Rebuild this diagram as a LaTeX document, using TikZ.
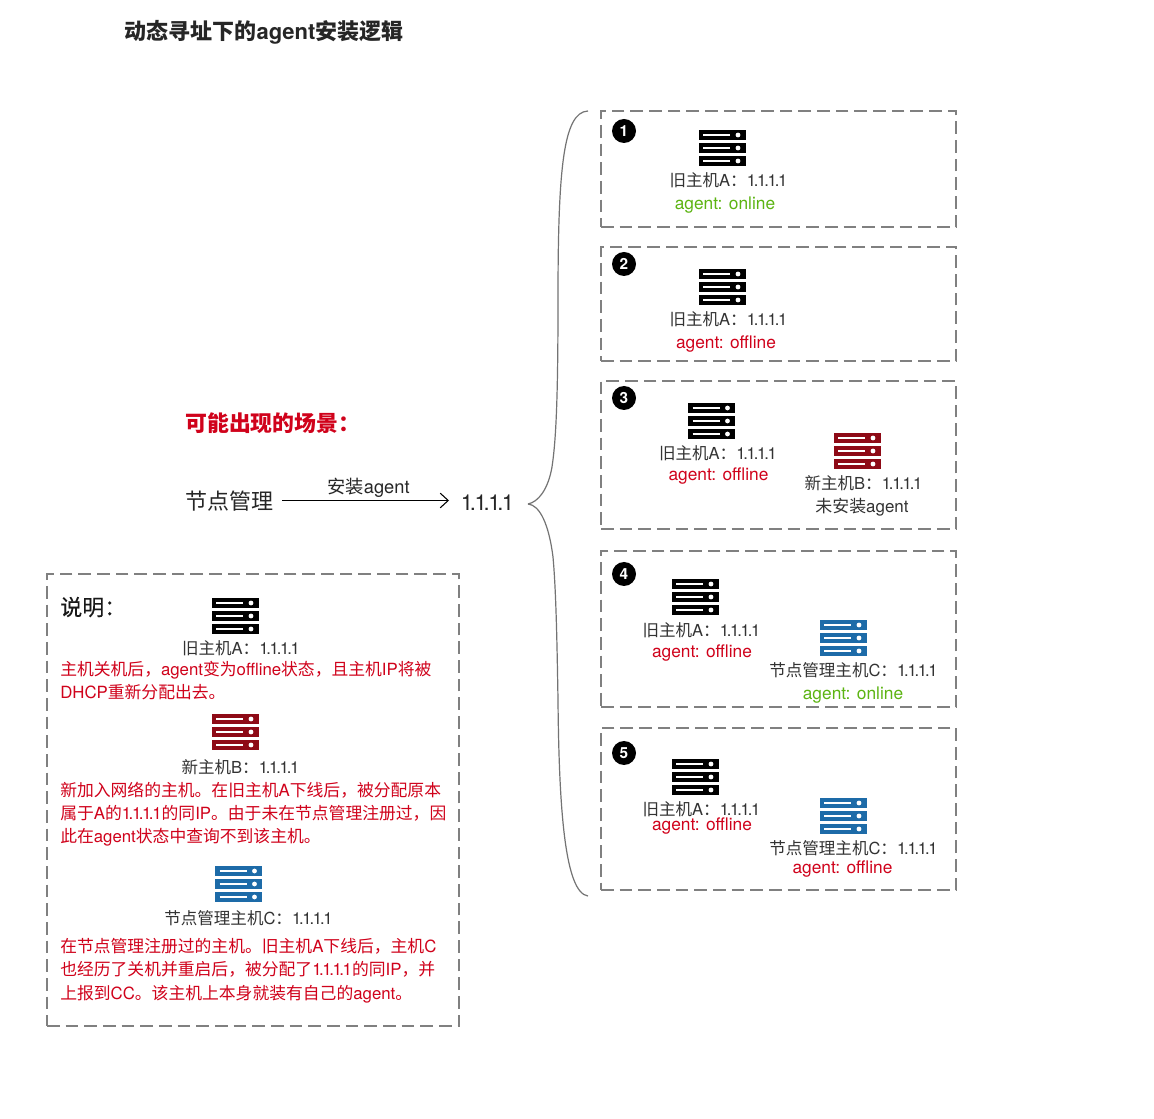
\documentclass[tikz,border=0pt]{standalone}
\usepackage{fontspec}
\setmainfont{TeX Gyre Heros}
\newfontfamily\cjk{Noto Sans CJK SC}
\newcommand{\Z}[1]{{\cjk #1}}
\usetikzlibrary{arrows.meta}
\definecolor{alarm}{HTML}{D0021B}
\definecolor{okgreen}{HTML}{5CB412}
\definecolor{darkred}{HTML}{8E0A16}
\definecolor{srvblue}{HTML}{1D6BA8}
\definecolor{ink}{HTML}{333333}
\newcommand{\ipt}[2]{1\kern#1em.\kern#2em1\kern#1em.\kern#2em1\kern#1em.\kern#2em1}
\newcommand{\hostA}{\Z{旧主机}A\Z{：}\ipt{-.13}{-.07}}
\newcommand{\hostB}{\Z{新主机}B\Z{：}\ipt{-.13}{-.07}}
\newcommand{\hostC}{\Z{节点管理主机}C\Z{：}\ipt{-.13}{-.07}}
\tikzset{
  dashbox/.style={draw=black!50,line width=.85pt,dash pattern=on 9.5pt off 4.5pt},
  lab/.style={font=\fontsize{12.4}{14}\selectfont,inner sep=0pt,text height=12pt,text depth=2.5pt,text=ink},
  redlab/.style={lab,font=\fontsize{13}{14}\selectfont,text=alarm},
  greenlab/.style={lab,font=\fontsize{13}{14}\selectfont,text=okgreen},
  para/.style={lab,font=\fontsize{12.6}{14}\selectfont,text=alarm,anchor=west},
  big/.style={font=\fontsize{16.5}{18}\selectfont,inner sep=0pt,text height=15pt,text depth=3pt,text=black!85},
  numdot/.style={circle,fill=black,text=white,inner sep=0pt,minimum size=18pt,font=\fontsize{11.5}{12}\bfseries\selectfont},
  bracket/.style={draw=black!55,line width=.9pt},
  pics/srv/.style={code={
    \foreach \yy in {-13,0,13}{
      \fill[#1] (-23.5,\yy-5.4) rectangle (23.5,\yy+5.4);
      \draw[white,line width=1.1pt] (-19,\yy) -- (8,\yy);
      \fill[white] (16,\yy) circle (2.4);
    }
  }}
}
\begin{document}
\begin{tikzpicture}[x=0.75pt,y=-0.75pt]
\useasboundingbox[fill=white] (0,0) rectangle (1154,1119);

% heading
\node[big,font=\fontsize{16.5}{18}\bfseries\selectfont] (title) at (264,32) {\Z{\bfseries 动态寻址下的}agent\Z{\bfseries 安装逻辑}};
\node[big,anchor=west,text=alarm,font=\fontsize{16.4}{18}\bfseries\selectfont] (scene) at (185,424) {\Z{\bfseries 可能出现的场景：}};

% main flow
\node[big] (mgr) at (229.5,502) {\Z{节点管理}};
\node[big] (ip) at (487.5,503) {\ipt{-.14}{-.07}};
\node[lab,font=\fontsize{13.7}{15}\selectfont,text=black!85] (inst) at (368.5,487) {\Z{安装}agent};
\coordinate (arrS) at (282,500.5);
\coordinate (arrE) at (449,500.5);
\draw[line width=.8pt,-{Straight Barb[length=6pt,width=11pt]}] (arrS) -- (arrE);

% brace
\coordinate (tip) at (528,504);
\coordinate (top) at (588,111);
\coordinate (bot) at (588,896);
\draw[bracket] (tip) .. controls (538,502) and (548,490) .. (552,467)
   .. controls (556,440) and (558,400) .. (558,300)
   .. controls (558,170) and (563,112) .. (top);
\draw[bracket] (tip) .. controls (540,505) and (549,525) .. (553,557)
   .. controls (556,590) and (557,640) .. (558,700)
   .. controls (559,810) and (565,893) .. (bot);

% scenario boxes
\node[dashbox,minimum width=266.25pt,minimum height=87pt,inner sep=0pt] (b1) at (778.5,169) {};
\node[dashbox,minimum width=266.25pt,minimum height=85.5pt,inner sep=0pt] (b2) at (778.5,304) {};
\node[dashbox,minimum width=266.25pt,minimum height=111pt,inner sep=0pt] (b3) at (778.5,455) {};
\node[dashbox,minimum width=266.25pt,minimum height=117pt,inner sep=0pt] (b4) at (778.5,629) {};
\node[dashbox,minimum width=266.25pt,minimum height=121.5pt,inner sep=0pt] (b5) at (778.5,809) {};
\node[dashbox,minimum width=309pt,minimum height=339pt,inner sep=0pt] (legend) at (253,800) {};

\node[numdot] (n1) at (624,131) {1};
\node[numdot] (n2) at (624,264) {2};
\node[numdot] (n3) at (624,398) {3};
\node[numdot] (n4) at (624,574) {4};
\node[numdot] (n5) at (624,753) {5};

% box 1
\pic at (722,148) {srv=black};
\node[lab] (a1) at (728.5,180) {\hostA};
\node[greenlab] (s1) at (725,203) {agent: online};
% box 2
\pic at (722,287) {srv=black};
\node[lab] (a2) at (728.5,319) {\hostA};
\node[redlab] (s2) at (726,342) {agent: offline};
% box 3
\pic at (711.5,421) {srv=black};
\node[lab] (a3) at (718,453) {\hostA};
\node[redlab] (s3) at (718.5,474) {agent: offline};
\pic at (857,451) {srv=darkred};
\node[lab] (h3) at (863.5,483) {\hostB};
\node[lab,font=\fontsize{12.7}{14}\selectfont] (u3) at (862,506) {\Z{未安装}agent};
% box 4
\pic at (695,597) {srv=black};
\node[lab] (a4) at (701.5,630) {\hostA};
\node[redlab] (s4) at (702,651) {agent: offline};
\pic at (843,638) {srv=srvblue};
\node[lab] (c4) at (853.5,670) {\hostC};
\node[greenlab] (g4) at (853,693) {agent: online};
% box 5
\pic at (695,777) {srv=black};
\node[lab] (a5) at (701.5,809) {\hostA};
\node[redlab] (s5) at (702,824) {agent: offline};
\pic at (843,816) {srv=srvblue};
\node[lab] (c5) at (853.5,848) {\hostC};
\node[redlab] (g5) at (842.5,867) {agent: offline};

% legend
\node[lab,anchor=west,font=\fontsize{16.5}{18}\selectfont,text=black!90] (note) at (60,609) {\Z{\addfontfeature{FakeBold=0.25}说明：}};
\pic at (235,616) {srv=black};
\node[lab] (la) at (241,648) {\hostA};
\node[para] (p1) at (60,669) {\Z{主机关机后，}agent\Z{变为}offline\Z{状态，且主机}IP\Z{将被}};
\node[para] (p2) at (60,692) {DHCP\Z{重新分配出去。}};
\pic at (235,732) {srv=darkred};
\node[lab] (lb) at (240.5,767) {\hostB};
\node[para] (p3) at (60,790) {\Z{新加入网络的主机。在旧主机}A\Z{下线后，被分配原本}};
\node[para] (p4) at (60,813) {\Z{属于}A\Z{的}\ipt{-.15}{-.08}\Z{的同}IP\Z{。由于未在节点管理注册过，因}};
\node[para] (p5) at (60,836) {\Z{此在}agent\Z{状态中查询不到该主机。}};
\pic at (238.5,884) {srv=srvblue};
\node[lab] (lc) at (248.5,918) {\hostC};
\node[para] (p6) at (60,946) {\Z{在节点管理注册过的主机。旧主机}A\Z{下线后，主机}C};
\node[para] (p7) at (60,969) {\Z{也经历了关机并重启后，被分配了}\ipt{-.15}{-.08}\Z{的同}IP\Z{，并}};
\node[para] (p8) at (60,993) {\Z{上报到}CC\Z{。该主机上本身就装有自己的}agent\Z{。}};
\end{tikzpicture}
\end{document}
